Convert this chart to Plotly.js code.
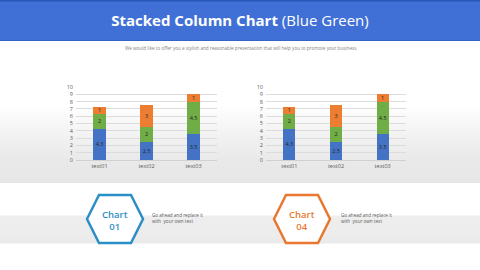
<!DOCTYPE html>
<html><head><meta charset="utf-8">
<script src="https://cdn.plot.ly/plotly-3.0.1.min.js"></script>
<style>
html,body{margin:0;padding:0;width:480px;height:270px;overflow:hidden;}
body{background:linear-gradient(to bottom,#ffffff 0px,#ffffff 105px,#f4f4f4 130px,#e9e9e9 160px,#e7e7e7 183px,#ffffff 183px,#ffffff 215px,#eeeeee 216px,#ececec 235px,#eaeaea 243px,#ffffff 244px,#ffffff 270px);}
#chart{width:480px;height:270px;}
</style></head><body>
<div id="chart"></div>
<script>
var categories = ['text01','text02','text03'];
var seriesBlue = [4.3, 2.5, 3.5];
var seriesGreen = [2, 2, 4.5];
var seriesOrange = [1, 3, 1];
var yTicks = [0,1,2,3,4,5,6,7,8,9,10];

var colors = {blue:'#4472C4', green:'#70AD47', orange:'#ED7D31'};
var W = 480, H = 270;
function px(x){return x/W;}
function py(y){return 1 - y/H;}

function series(vals, color, xa, ya){
  return {type:'bar', x:categories, y:vals, xaxis:xa, yaxis:ya,
    marker:{color:color}, text:vals.map(String), textposition:'inside', textangle:0,
    insidetextanchor:'middle', constraintext:'none',
    textfont:{family:'Open Sans, sans-serif', size:5.5, color:'#262626'},
    hoverinfo:'none', showlegend:false};
}
var data = [];
[['x','y'],['x2','y2']].forEach(function(a){
  data.push(series(seriesBlue, colors.blue, a[0], a[1]));
  data.push(series(seriesGreen, colors.green, a[0], a[1]));
  data.push(series(seriesOrange, colors.orange, a[0], a[1]));
});

function xaxisDef(d){return {domain:d, showgrid:false, zeroline:false, showline:true, linecolor:'#d0d0d0', linewidth:1,
  tickfont:{family:'Open Sans, sans-serif', size:5.5, color:'#595959'}, ticks:'', fixedrange:true};}
function yaxisDef(){return {domain:[py(160), py(87)], range:[0,10], tickvals:yTicks, showgrid:true, gridcolor:'#dcdcdc', gridwidth:1,
  zeroline:false, showline:false, tickfont:{family:'Open Sans, sans-serif', size:5.5, color:'#595959'}, ticks:'', ticklabelstandoff:2, fixedrange:true};}

function hexPath(cx, cy, hw, tw, hh){
  var pts = [[cx-hw,cy],[cx-tw,cy-hh],[cx+tw,cy-hh],[cx+hw,cy],[cx+tw,cy+hh],[cx-tw,cy+hh]];
  return 'M' + pts.map(function(p){return px(p[0]).toFixed(5)+','+py(p[1]).toFixed(5);}).join(' L') + ' Z';
}
function ann(x, y, text, font, xanchor, align){
  return {xref:'paper', yref:'paper', x:px(x), y:py(y), xanchor:xanchor||'center', yanchor:'middle', align:align||'center',
    text:text, showarrow:false, font:font};
}
var sideFont = {family:'Open Sans, sans-serif', size:4.6, color:'#595959'};

var layout = {
  width:W, height:H, margin:{l:0,r:0,t:0,b:0},
  paper_bgcolor:'rgba(0,0,0,0)', plot_bgcolor:'rgba(0,0,0,0)',
  barmode:'stack', bargap:0.74,
  title:{text:'<b>Stacked Column Chart</b> (Blue Green)', x:0.5, xanchor:'center', y:py(21), yanchor:'middle',
    font:{family:'Open Sans, sans-serif', size:15, color:'#ffffff'}},
  xaxis:xaxisDef([px(76), px(217)]), yaxis:yaxisDef(),
  xaxis2:xaxisDef([px(266), px(406)]), yaxis2:Object.assign(yaxisDef(), {anchor:'x2'}),
  shapes:[
    {type:'rect', xref:'paper', yref:'paper', x0:0, x1:1, y0:py(41), y1:1, fillcolor:'#4070D6', line:{width:0}, layer:'below'},
    {type:'rect', xref:'paper', yref:'paper', x0:0, x1:1, y0:py(1.5), y1:1, fillcolor:'#2a56b8', line:{width:0}, layer:'below'},
    {type:'rect', xref:'paper', yref:'paper', x0:0, x1:1, y0:py(41), y1:py(40), fillcolor:'#3563c8', line:{width:0}, layer:'below'},
    {type:'path', xref:'paper', yref:'paper', path:hexPath(115,219,28,16,24), fillcolor:'#ffffff', line:{color:'#2A8FC7', width:2.5}},
    {type:'path', xref:'paper', yref:'paper', path:hexPath(302,219,28,16,24), fillcolor:'#ffffff', line:{color:'#E8782F', width:2.5}}
  ],
  annotations:[
    ann(240, 48, 'We would like to offer you a stylish and reasonable presentation that will help you to promote your business',
      {family:'Open Sans, sans-serif', size:4.6, color:'#7f7f7f'}),
    ann(115, 220, 'Chart<br>01', {family:'Open Sans, sans-serif', size:9.5, color:'#2A8FC7', weight:600}),
    ann(302, 220, 'Chart<br>04', {family:'Open Sans, sans-serif', size:9.5, color:'#E8782F', weight:600}),
    ann(150, 217.5, 'Go ahead and replace it<br>with  your own text', sideFont, 'left', 'left'),
    ann(339, 217.5, 'Go ahead and replace it<br>with  your own text', sideFont, 'left', 'left')
  ]
};
Plotly.newPlot('chart', data, layout, {displayModeBar:false, staticPlot:true});
</script>
</body></html>
